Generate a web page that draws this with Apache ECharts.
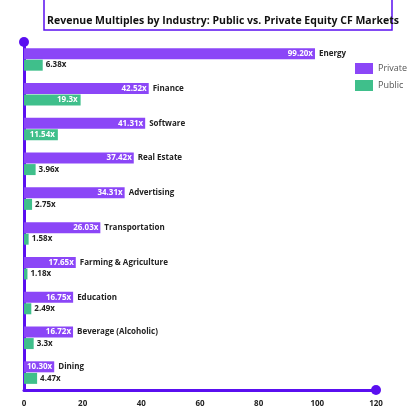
<!DOCTYPE html>
<html>
<head>
<meta charset="utf-8">
<script src="https://cdn.jsdelivr.net/npm/echarts@6/dist/echarts.min.js"></script>
<style>html,body{margin:0;padding:0;background:#fff}#chart{width:414px;height:414px}</style>
</head>
<body>
<div id="chart"></div>
<script>
// bottom to top
var industries = ['Dining', 'Beverage (Alcoholic)', 'Education', 'Farming & Agriculture', 'Transportation', 'Advertising', 'Real Estate', 'Software', 'Finance', 'Energy'];
var privateVals = [10.30, 16.72, 16.75, 17.65, 26.03, 34.31, 37.42, 41.31, 42.52, 99.20];
var publicVals = [4.47, 3.3, 2.49, 1.18, 1.58, 2.75, 3.96, 11.54, 19.3, 6.38];
var publicText = ['4.47x', '3.3x', '2.49x', '1.18x', '1.58x', '2.75x', '3.96x', '11.54x', '19.3x', '6.38x'];

var purple = '#8b46f7';
var green = '#3fbf8b';
var axisColor = '#5a0ff0';
var font = 'Open Sans';

var chart = echarts.init(document.getElementById('chart'));

var publicData = publicVals.map(function(v, i) {
  var inside = v > 10;
  return {
    value: v,
    label: {
      position: inside ? 'insideRight' : 'right',
      color: inside ? '#fff' : '#222'
    }
  };
});

chart.setOption({
  textStyle: { fontFamily: font },
  title: {
    text: 'Revenue Multiples by Industry: Public vs. Private Equity CF Markets',
    left: 218, textAlign: 'center', top: 11,
    textStyle: { fontSize: 10.5, fontWeight: 'bold', color: '#111', fontFamily: font }
  },
  graphic: [{
    type: 'rect', shape: { x: 44, y: -5, width: 348, height: 35 },
    style: { fill: 'none', stroke: axisColor, lineWidth: 1.5 }
  }],
  legend: {
    data: ['Private', 'Public'],
    orient: 'vertical', left: 350, top: 58,
    itemWidth: 18, itemHeight: 11, itemGap: 6, icon: 'rect',
    textStyle: { fontSize: 9, color: '#555', fontFamily: font }
  },
  grid: { left: 24, width: 352, top: 42, bottom: 24 },
  xAxis: {
    type: 'value', min: 0, max: 120, interval: 20,
    splitLine: { show: false },
    axisTick: { show: false },
    axisLine: { show: true, lineStyle: { color: axisColor, width: 3 }, symbol: ['none', 'circle'], symbolSize: [10, 10] },
    axisLabel: { fontSize: 8, fontWeight: 'bold', color: '#222', margin: 10 }
  },
  yAxis: [{
    type: 'category', data: industries,
    axisTick: { show: false },
    axisLabel: { show: false },
    axisLine: { show: true, lineStyle: { color: axisColor, width: 3 }, symbol: ['none', 'circle'], symbolSize: [10, 10] }
  }, {
    type: 'category', data: industries, position: 'left',
    axisTick: { show: false }, axisLabel: { show: false }, axisLine: { show: false }
  }],
  series: [{
    name: 'Private', type: 'bar', data: privateVals,
    barWidth: 11, barGap: '5%',
    itemStyle: { color: purple },
    label: { show: true, position: 'insideRight', distance: 2, fontSize: 8, fontWeight: 'bold', color: '#fff',
      formatter: function(p) { return p.value.toFixed(2) + 'x'; } },
    z: 3
  }, {
    name: 'Public', type: 'bar', data: publicData,
    barWidth: 11, barGap: '5%',
    itemStyle: { color: green },
    label: { show: true, fontSize: 8, fontWeight: 'bold', distance: 3, formatter: function(p) { return publicText[p.dataIndex]; } },
    z: 3
  }, {
    name: 'PrivateName', type: 'bar', yAxisIndex: 1, data: privateVals,
    barWidth: 11, barGap: '5%',
    itemStyle: { color: 'rgba(0,0,0,0)' },
    label: { show: true, position: 'right', distance: 4, fontSize: 8, fontWeight: 'bold', color: '#222',
      formatter: function(p) { return p.name; } },
    z: 4, silent: true
  }, {
    name: 'Spacer', type: 'bar', yAxisIndex: 1, data: industries.map(function() { return null; }),
    barWidth: 11, barGap: '5%', silent: true
  }]
});
</script>
</body>
</html>
